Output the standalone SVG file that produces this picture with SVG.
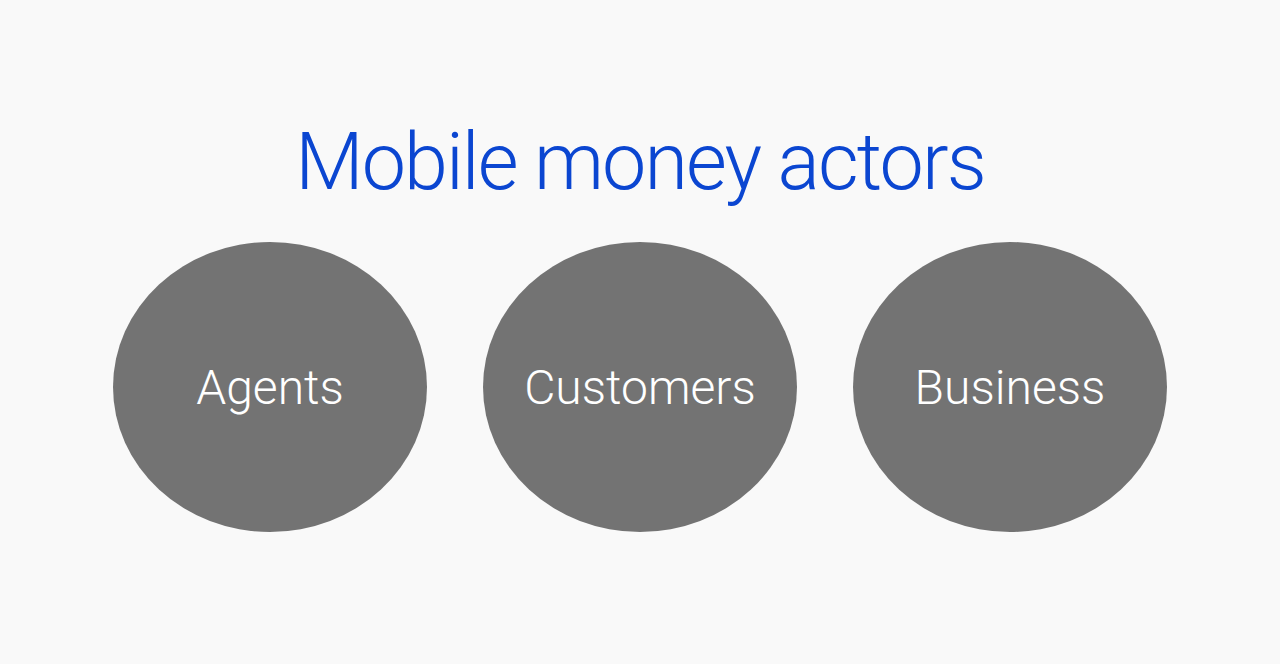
<svg xmlns="http://www.w3.org/2000/svg" width="1280" height="664" viewBox="0 0 1280 664">
<style>
.node{fill:#737373}
.lbl{font-family:Roboto,"Liberation Sans",sans-serif;font-weight:300;font-size:48px;fill:#ffffff;text-anchor:middle}
.title{font-family:Roboto,"Liberation Sans",sans-serif;font-weight:300;font-size:79px;fill:#0b46d1;text-anchor:middle;letter-spacing:-1.9px}
</style>
<rect width="1280" height="664" fill="#f9f9f9"/>
<text class="title" x="640" y="189">Mobile money actors</text>
<g id="connectors"></g>
<g id="agents"><ellipse class="node" cx="270" cy="387" rx="157" ry="145"/><text class="lbl" x="270" y="404">Agents</text></g>
<g id="customers"><ellipse class="node" cx="640" cy="387" rx="157" ry="145"/><text class="lbl" x="640" y="404">Customers</text></g>
<g id="business"><ellipse class="node" cx="1010" cy="387" rx="157" ry="145"/><text class="lbl" x="1010" y="404">Business</text></g>
</svg>
